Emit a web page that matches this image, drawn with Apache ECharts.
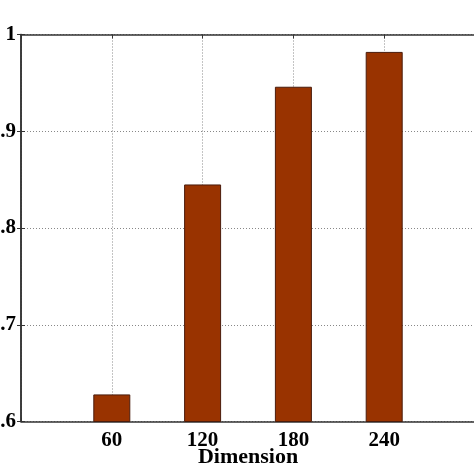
<!DOCTYPE html>
<html>
<head>
<meta charset="utf-8">
<script src="https://cdn.jsdelivr.net/npm/echarts@6/dist/echarts.min.js"></script>
<style>
html,body{margin:0;padding:0;background:#fff;}
#c{width:474px;height:474px;}
</style>
</head>
<body>
<div id="c"></div>
<script>
var dimensions = [60, 120, 180, 240];
var accuracy = [0.628, 0.845, 0.946, 0.982];
var xTicks = [0, 60, 120, 180, 240, 300];
var yTicks = [0.6, 0.7, 0.8, 0.9, 1];

var chart = echarts.init(document.getElementById('c'));
var font = 'Liberation Serif';
var labelStyle = {fontFamily: font, fontWeight: 'bold', fontSize: 21, color: '#000'};
chart.setOption({
  animation: false,
  grid: {left: 21, right: -1, top: 34.5, bottom: 52.5, containLabel: false, outerBoundsMode: 'none'},
  xAxis: [{
    type: 'value', min: 0, max: 300, interval: 60,
    name: 'Dimension', nameLocation: 'middle', nameGap: 25, nameMoveOverlap: false,
    nameTextStyle: {fontFamily: font, fontWeight: 'bold', fontSize: 22, color: '#000', verticalAlign: 'top'},
    axisLine: {show: true, onZero: false, lineStyle: {color: '#333', width: 1.5}},
    axisTick: {show: true, inside: true, length: 4, lineStyle: {color: '#333'}},
    axisLabel: Object.assign({margin: 9, formatter: function (v) {
      return (v === xTicks[0] || v === xTicks[xTicks.length - 1]) ? '' : String(v);
    }}, labelStyle),
    splitLine: {show: true, lineStyle: {color: '#888', type: [1, 2], width: 1}}
  }, {
    type: 'value', min: 0, max: 300, interval: 60, position: 'top',
    axisLine: {show: true, lineStyle: {color: '#333', width: 1.5}},
    axisTick: {show: true, inside: true, length: 4, lineStyle: {color: '#333'}},
    axisLabel: {show: false}, splitLine: {show: false}
  }],
  yAxis: [{
    type: 'value', min: yTicks[0], max: yTicks[yTicks.length - 1], interval: 0.1,
    axisLine: {show: true, lineStyle: {color: '#333', width: 1.5}},
    axisTick: {show: true, inside: true, length: 4, lineStyle: {color: '#333'}},
    axisLabel: Object.assign({margin: 5, formatter: function (v) {
      return String(Math.round(v * 10) / 10);
    }}, labelStyle),
    splitLine: {show: true, lineStyle: {color: '#888', type: [1, 2], width: 1}}
  }, {
    type: 'value', min: yTicks[0], max: yTicks[yTicks.length - 1], interval: 0.1, position: 'right',
    axisLine: {show: true, lineStyle: {color: '#333', width: 1.5}},
    axisTick: {show: true, inside: true, length: 4, lineStyle: {color: '#333'}},
    axisLabel: {show: false}, splitLine: {show: false}
  }],
  series: [{
    type: 'bar',
    xAxisIndex: 0, yAxisIndex: 0,
    barWidth: 37,
    data: dimensions.map(function (d, i) { return [d, accuracy[i]]; }),
    itemStyle: {color: '#993300', borderColor: '#4a1c0c', borderWidth: 1}
  }]
});
</script>
</body>
</html>
